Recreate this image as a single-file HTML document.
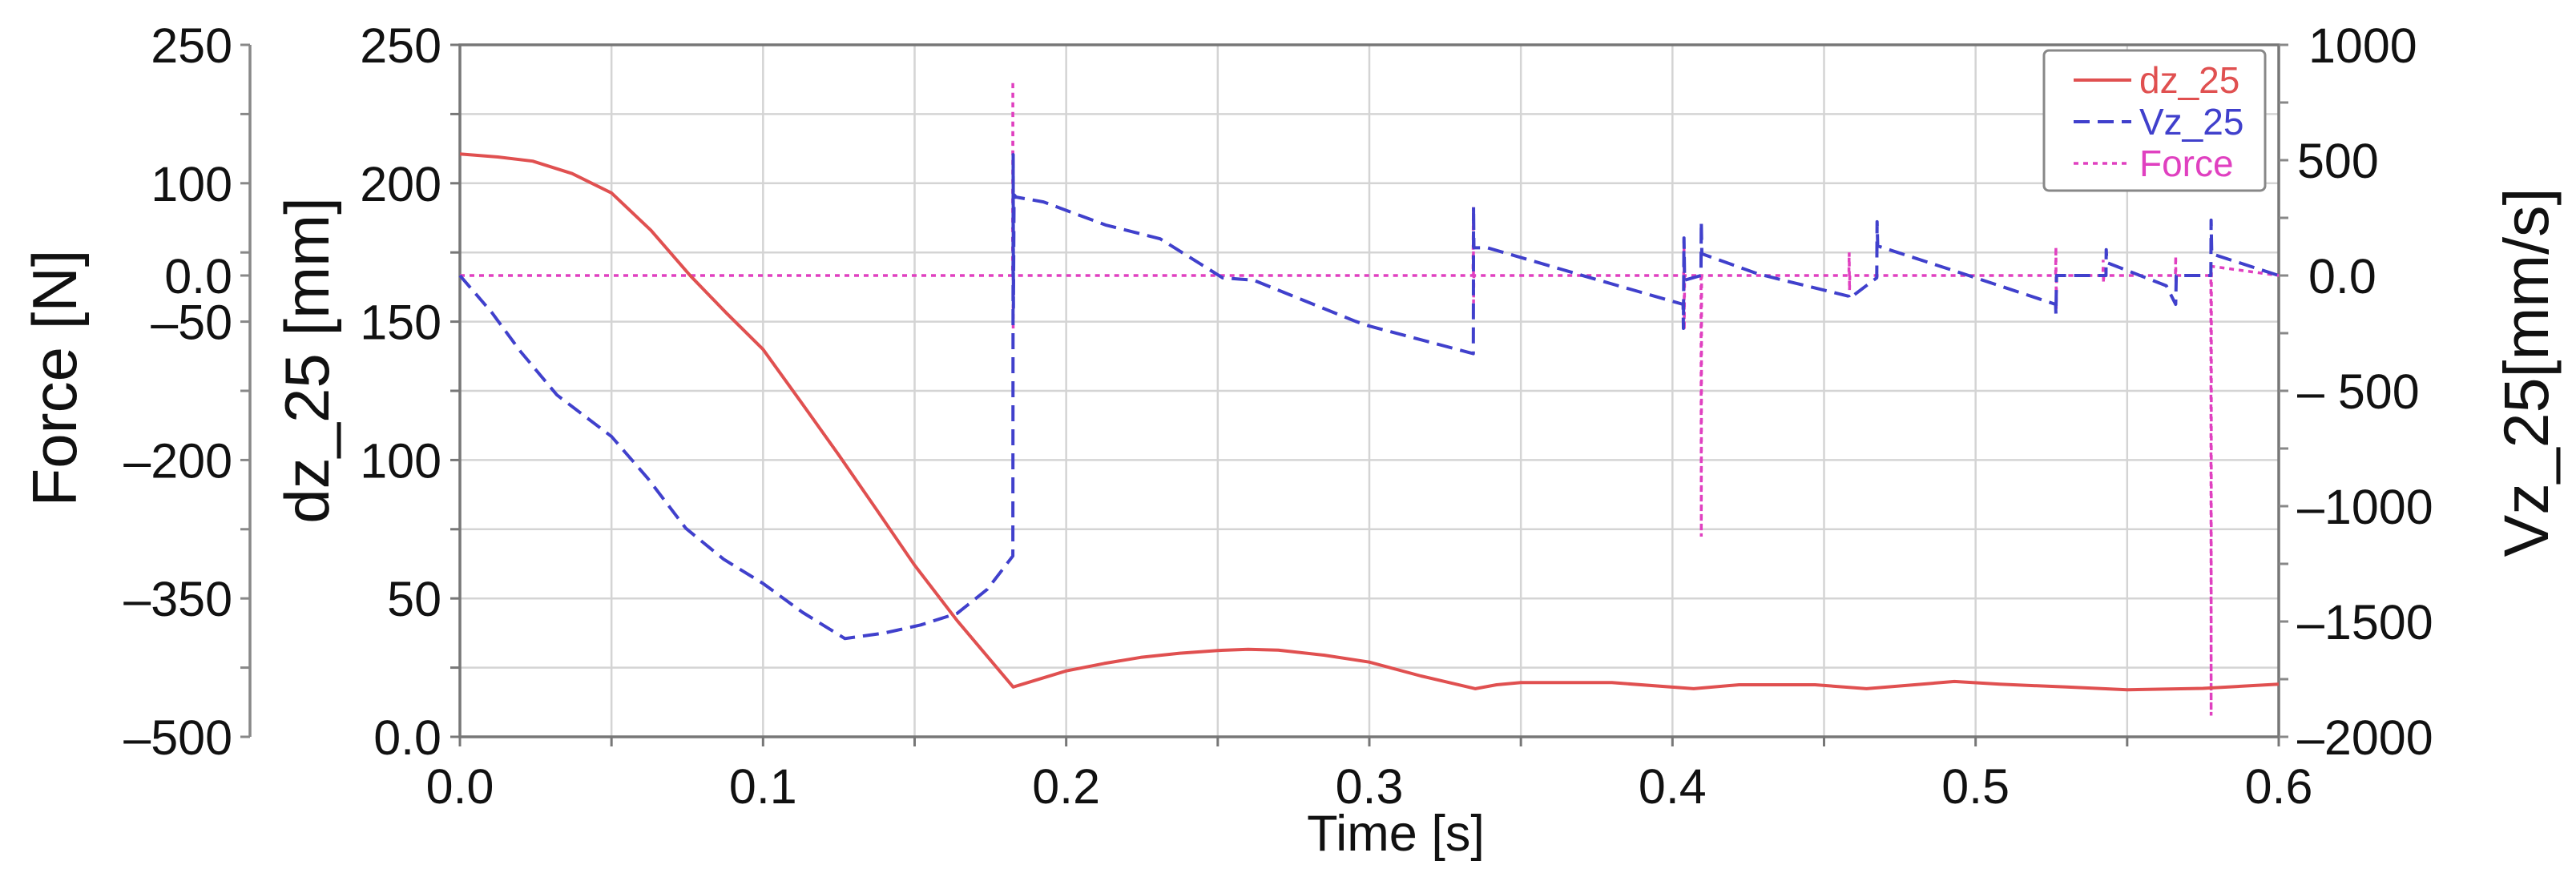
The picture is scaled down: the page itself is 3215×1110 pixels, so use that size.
<!DOCTYPE html>
<html><head><meta charset="utf-8"><style>
body{margin:0;background:#fff;}
svg{display:block;font-family:"Liberation Sans",Arial,sans-serif;}
</style></head><body>
<svg id="chart" width="3215" height="1110" viewBox="0 0 3215 1110" xmlns="http://www.w3.org/2000/svg">
<g id="grid"></g>
<g id="axes"></g>
<g id="series"></g>
<text transform="translate(95,472) rotate(-90)" text-anchor="middle" font-size="78" fill="#111">Force [N]</text>
<text transform="translate(410,450) rotate(-90)" text-anchor="middle" font-size="78" fill="#111">dz_25 [mm]</text>
<text transform="translate(3180,465) rotate(-90)" text-anchor="middle" font-size="79" fill="#111">Vz_25[mm/s]</text>
<text x="1742" y="1062" text-anchor="middle" font-size="63" fill="#111">Time [s]</text>
<g>
<rect x="2551" y="63" width="276" height="175" rx="6" fill="#fff" stroke="#888" stroke-width="3"/>
<line x1="2588" y1="100" x2="2660" y2="100" stroke="#e05050" stroke-width="4"/>
<text x="2670" y="116" font-size="46" fill="#e05050">dz_25</text>
<line x1="2588" y1="152" x2="2660" y2="152" stroke="#4040cc" stroke-width="4" stroke-dasharray="20,10"/>
<text x="2670" y="168" font-size="46" fill="#4040cc">Vz_25</text>
<line x1="2588" y1="204" x2="2660" y2="204" stroke="#e040c0" stroke-width="3.5" stroke-dasharray="6,6"/>
<text x="2670" y="220" font-size="46" fill="#e040c0">Force</text>
</g>
</svg>
<script>
// data
const dzT = [0,0.0125,0.024,0.037,0.05,0.063,0.076,0.088,0.1,0.1125,0.125,0.1375,0.15,0.164,0.1825,0.2,0.2125,0.2246,0.2375,0.25,0.26,0.27,0.285,0.3,0.317,0.335,0.342,0.35,0.38,0.407,0.422,0.447,0.464,0.493,0.508,0.53,0.55,0.575,0.6];
const dzV = [210.6,209.5,208,203.5,196.5,183,166.6,153,140,121,101.8,82,62,42,18,23.8,26.5,28.7,30.2,31.2,31.6,31.3,29.5,27,22,17.4,18.8,19.6,19.6,17.4,18.8,18.8,17.4,20,19,18,17,17.5,19];
const vzT = [0,0.0105,0.02,0.032,0.05,0.062,0.0745,0.087,0.1,0.113,0.127,0.14,0.152,0.164,0.174,0.1824,0.1825,0.1826,0.1828,0.1835,0.1925,0.213,0.231,0.2516,0.2618,0.2955,0.3,0.3343,0.3344,0.3345,0.339,0.373,0.4035,0.4036,0.4038,0.404,0.4094,0.4095,0.4097,0.428,0.4386,0.4582,0.4583,0.4674,0.4675,0.4677,0.4977,0.5264,0.5265,0.5267,0.543,0.5431,0.5433,0.5629,0.566,0.5662,0.567,0.5776,0.5777,0.5779,0.6];
const vzV = [0,-160,-330,-518,-698,-880,-1096,-1230,-1335,-1460,-1574,-1550,-1515,-1465,-1360,-1216,524,-140,350,340,319,219,159,-10,-20,-199,-219,-339,299,120,120,-10,-125,-229,163,-20,0,233,94,8,-27,-90,-100,-10,233,128,0,-125,-166,0,0,112,56,-44,-125,0,0,0,240,94,0];
const fT = [0,0.1823,0.1824,0.1825,0.1826,0.3342,0.3343,0.3344,0.3345,0.4037,0.4038,0.4039,0.404,0.4094,0.4095,0.4096,0.4582,0.4583,0.4584,0.4585,0.5264,0.5265,0.5266,0.5267,0.542,0.5421,0.5422,0.5423,0.5659,0.566,0.5661,0.5662,0.5776,0.5777,0.5778,0.6];
const fV = [0,0,211,-60,0,0,74,-30,0,0,41,-59,0,0,-283,0,0,25,-16,0,0,31,-36,0,0,17,-8,0,0,21,-11,0,0,-477,10,0];
const xTicks = [0,0.1,0.2,0.3,0.4,0.5,0.6];
const xTickLabels = ["0.0","0.1","0.2","0.3","0.4","0.5","0.6"];
const dzTicks = [0,50,100,150,200,250];
const dzTickLabels = ["0.0","50","100","150","200","250"];
const fTicks = [250,100,0,-50,-200,-350,-500];
const fTickLabels = ["250","100","0.0","\u201350","\u2013200","\u2013350","\u2013500"];
const vTicks = [1000,500,0,-500,-1000,-1500,-2000];
const vTickLabels = ["1000","500","0.0","\u2013 500","\u20131000","\u20131500","\u20132000"];

const L=574,R=2844,T=56,B=920;
const X=t=>L+t/0.6*(R-L);
const Ydz=v=>B-v/250*(B-T);
const Yv=v=>B-(v+2000)/3000*(B-T);
const Yf=v=>B-(v+500)/750*(B-T);
const NS="http://www.w3.org/2000/svg";
function mk(tag,attrs,parent){const e=document.createElementNS(NS,tag);for(const k in attrs)e.setAttribute(k,attrs[k]);parent.appendChild(e);return e;}
const grid=document.getElementById('grid'),axes=document.getElementById('axes'),series=document.getElementById('series');
for(let i=0;i<=12;i++){const x=X(i*0.05);
 const g=mk('line',{x1:x,y1:T,x2:x,y2:B,stroke:'#d4d4d4','stroke-width':2.5},grid);
 
 
 const tk=mk('line',{x1:x,y1:B,x2:x,y2:B+12,stroke:'#777','stroke-width':3},axes);
 
 }
for(let i=0;i<=10;i++){const y=Ydz(i*25);
 const g=mk('line',{x1:L,y1:y,x2:R,y2:y,stroke:'#d4d4d4','stroke-width':2.5},grid);
 
 
 const tk=mk('line',{x1:L-12,y1:y,x2:L,y2:y,stroke:'#777','stroke-width':3},axes);
 
 }
const frame=mk('rect',{x:L,y:T,width:R-L,height:B-T,fill:'none',stroke:'#777','stroke-width':3.5},axes);


const fa=mk('line',{x1:312,y1:T,x2:312,y2:B,stroke:'#888','stroke-width':3.5},axes);


for(let v=250;v>=-500;v-=75){const y=Yf(v);
 const tk=mk('line',{x1:300,y1:y,x2:312,y2:y,stroke:'#888','stroke-width':3},axes);
 
 }
{const tk=mk('line',{x1:300,y1:Yf(0),x2:312,y2:Yf(0),stroke:'#888','stroke-width':3},axes);
 
 }
for(let v=1000;v>=-2000;v-=250){const y=Yv(v);
 const tk=mk('line',{x1:R,y1:y,x2:R+12,y2:y,stroke:'#888','stroke-width':3},axes);
 
 }
function txt(s,attrs,name){const e=mk('text',Object.assign({'font-size':61,fill:'#111'},attrs),axes);e.textContent=s;
 
 }
xTicks.forEach((t,i)=>txt(xTickLabels[i],{x:X(t),y:1003,'text-anchor':'middle'},'x-tick-label'));
dzTicks.forEach((v,i)=>txt(dzTickLabels[i],{x:551,y:Ydz(v)+22,'text-anchor':'end'},'dz-tick-label'));
fTicks.forEach((v,i)=>txt(fTickLabels[i],{x:290,y:Yf(v)+22,'text-anchor':'end'},'force-tick-label'));
vTicks.forEach((v,i)=>txt(vTickLabels[i],{x:v===1000||v===0?2881:2867,y:Yv(v)+22,'text-anchor':'start'},'vz-tick-label'));
function path(ts,vs,yf){return ts.map((t,i)=>(i?'L':'M')+X(t).toFixed(1)+','+yf(vs[i]).toFixed(1)).join('');}
const pf=mk('path',{d:path(fT,fV,Yf),fill:'none',stroke:'#e040c0','stroke-width':3.5,'stroke-dasharray':'6,6'},series);


const pv=mk('path',{d:path(vzT,vzV,Yv),fill:'none',stroke:'#4040cc','stroke-width':4,'stroke-dasharray':'20,10','stroke-linejoin':'round'},series);


const pd=mk('path',{d:path(dzT,dzV,Ydz),fill:'none',stroke:'#e05050','stroke-width':4,'stroke-linejoin':'round'},series);


</script>
</body></html>
